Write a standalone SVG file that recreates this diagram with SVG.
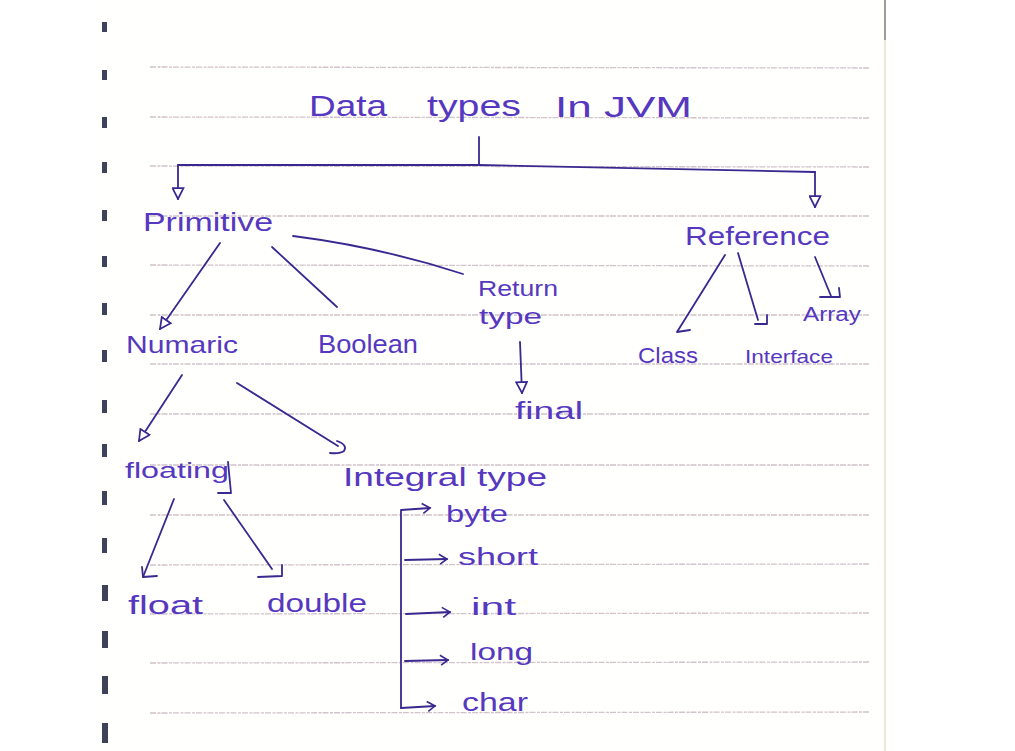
<svg xmlns="http://www.w3.org/2000/svg" width="1015" height="751" viewBox="0 0 1015 751">
<style>
.rule{stroke:#d2c2cc;stroke-width:1.3;stroke-dasharray:6 1.5 3 1}
.ink{fill:#5638c0;font-family:"Liberation Sans","DejaVu Sans",sans-serif}
.ln{fill:none;stroke:#3a2790;stroke-width:1.8;stroke-linecap:round;stroke-linejoin:round}
.bind{fill:#3d4258}
</style>
<defs>
<marker id="tri" viewBox="0 0 12 12" refX="11" refY="6" markerWidth="13" markerHeight="13" markerUnits="userSpaceOnUse" orient="auto">
<path d="M1,1 L11,6 L1,11 Z" fill="#fff" stroke="#3a2790" stroke-width="1.6"/>
</marker>
<marker id="chev" viewBox="0 0 12 12" refX="10" refY="6" markerWidth="12" markerHeight="12" markerUnits="userSpaceOnUse" orient="auto">
<path d="M2,1 L10,6 L3,11" fill="none" stroke="#3a2790" stroke-width="1.6"/>
</marker>
</defs>
<rect width="1015" height="751" fill="#fff"/>
<rect x="100" y="0" width="785" height="751" fill="#fffffd"/>
<line x1="885" y1="0" x2="885" y2="751" stroke="#ece9d8" stroke-width="2"/>
<line x1="885" y1="0" x2="885" y2="40" stroke="#6a6a6a" stroke-width="1.2"/>
<g id="binding">
<rect class="bind" x="102" y="22" width="5" height="10"/>
<rect class="bind" x="102" y="70" width="5" height="10"/>
<rect class="bind" x="102" y="117" width="5" height="11"/>
<rect class="bind" x="102" y="162" width="5" height="11"/>
<rect class="bind" x="102" y="210" width="5" height="11"/>
<rect class="bind" x="102" y="256" width="5" height="11"/>
<rect class="bind" x="102" y="303" width="5" height="12"/>
<rect class="bind" x="102" y="350" width="5" height="12"/>
<rect class="bind" x="102" y="400" width="5" height="13"/>
<rect class="bind" x="102" y="444" width="5" height="13"/>
<rect class="bind" x="102" y="491" width="5" height="14"/>
<rect class="bind" x="102" y="538" width="5" height="15"/>
<rect class="bind" x="102" y="585" width="6" height="16"/>
<rect class="bind" x="102" y="631" width="6" height="17"/>
<rect class="bind" x="102" y="676" width="6" height="18"/>
<rect class="bind" x="102" y="723" width="6" height="20"/>
</g>
<g id="rules">
<line class="rule" x1="150" y1="67" x2="870" y2="68"/>
<line class="rule" x1="150" y1="117" x2="870" y2="118"/>
<line class="rule" x1="150" y1="166" x2="870" y2="167"/>
<line class="rule" x1="150" y1="216" x2="870" y2="216"/>
<line class="rule" x1="150" y1="265" x2="870" y2="266"/>
<line class="rule" x1="150" y1="315" x2="870" y2="315"/>
<line class="rule" x1="150" y1="364" x2="870" y2="364"/>
<line class="rule" x1="150" y1="414" x2="870" y2="414"/>
<line class="rule" x1="150" y1="465" x2="870" y2="465"/>
<line class="rule" x1="150" y1="515" x2="870" y2="515"/>
<line class="rule" x1="150" y1="565" x2="870" y2="564"/>
<line class="rule" x1="150" y1="614" x2="870" y2="613"/>
<line class="rule" x1="150" y1="663" x2="870" y2="662"/>
<line class="rule" x1="150" y1="713" x2="870" y2="712"/>
</g>
<g id="connectors">
<path class="ln" d="M479,137 L479,165"/>
<path class="ln" d="M178,165 L479,165 L815,172"/>
<path class="ln" d="M178,165 L178,199" marker-end="url(#tri)"/>
<path class="ln" d="M815,172 L815,207" marker-end="url(#tri)"/>
<path class="ln" d="M220,243 L160,329" marker-end="url(#tri)"/>
<path class="ln" d="M272,247 L337,307"/>
<path class="ln" d="M293,236 Q380,247 463,274"/>
<path class="ln" d="M520,342 L522,393" marker-end="url(#tri)"/>
<path class="ln" d="M725,255 L677,332 L690,330"/>
<path class="ln" d="M738,253 L758,320"/>
<path class="ln" d="M755,324 L767,324 L767,315"/>
<path class="ln" d="M815,257 L831,296"/>
<path class="ln" d="M820,297 L840,297 L839,288"/>
<path class="ln" d="M182,375 L139,441" marker-end="url(#tri)"/>
<path class="ln" d="M237,383 L338,446"/>
<path class="ln" d="M337,441 Q348,445 344,451 Q340,454 330,453"/>
<path class="ln" d="M174,499 L143,577 L157,576"/>
<path class="ln" d="M142,567 L143,577"/>
<path class="ln" d="M224,500 L272,569"/>
<path class="ln" d="M258,577 L282,576 L282,565"/>
<path class="ln" d="M401,708 L401,510 L430,508" marker-end="url(#chev)"/>
<path class="ln" d="M405,560 L447,559" marker-end="url(#chev)"/>
<path class="ln" d="M406,614 L450,612" marker-end="url(#chev)"/>
<path class="ln" d="M405,661 L448,660" marker-end="url(#chev)"/>
<path class="ln" d="M401,708 L435,706" marker-end="url(#chev)"/>
</g>
<g id="title"><text class="ink" font-size="30"><tspan x="309" y="116" textLength="78" lengthAdjust="spacingAndGlyphs">Data</tspan><tspan x="427" y="116" textLength="94" lengthAdjust="spacingAndGlyphs">types</tspan><tspan x="555" y="117" textLength="137" lengthAdjust="spacingAndGlyphs">In JVM</tspan></text></g>
<g id="primitive"><text class="ink" x="143" y="231" font-size="25" textLength="130" lengthAdjust="spacingAndGlyphs">Primitive</text></g>
<g id="reference"><text class="ink" x="685" y="245" font-size="25" textLength="145" lengthAdjust="spacingAndGlyphs">Reference</text></g>
<g id="numaric"><text class="ink" x="126" y="353" font-size="24" textLength="112" lengthAdjust="spacingAndGlyphs">Numaric</text></g>
<g id="boolean"><text class="ink" x="318" y="353" font-size="26" textLength="100" lengthAdjust="spacingAndGlyphs">Boolean</text></g>
<g id="returntype"><text class="ink" font-size="22"><tspan x="478" y="296" textLength="80" lengthAdjust="spacingAndGlyphs">Return</tspan><tspan x="479" y="324" textLength="63" lengthAdjust="spacingAndGlyphs">type</tspan></text></g>
<g id="final"><text class="ink" x="515" y="419" font-size="23" textLength="68" lengthAdjust="spacingAndGlyphs">final</text></g>
<g id="class"><text class="ink" x="638" y="363" font-size="22" textLength="60" lengthAdjust="spacingAndGlyphs">Class</text></g>
<g id="interface"><text class="ink" x="745" y="363" font-size="19" textLength="88" lengthAdjust="spacingAndGlyphs">Interface</text></g>
<g id="array"><text class="ink" x="803" y="321" font-size="20" textLength="58" lengthAdjust="spacingAndGlyphs">Array</text></g>
<g id="floating"><text class="ink" x="125" y="478" font-size="22" textLength="104" lengthAdjust="spacingAndGlyphs">floating</text><path class="ln" d="M228,462 L231,493 L218,493" stroke="#5638c0"/></g>
<g id="integral"><text class="ink" x="343" y="486" font-size="26" textLength="204" lengthAdjust="spacingAndGlyphs">Integral type</text></g>
<g id="float"><text class="ink" x="128" y="614" font-size="25" textLength="75" lengthAdjust="spacingAndGlyphs">float</text></g>
<g id="double"><text class="ink" x="267" y="612" font-size="26" textLength="100" lengthAdjust="spacingAndGlyphs">double</text></g>
<g id="byte"><text class="ink" x="446" y="522" font-size="24" textLength="62" lengthAdjust="spacingAndGlyphs">byte</text></g>
<g id="short"><text class="ink" x="458" y="565" font-size="23" textLength="80" lengthAdjust="spacingAndGlyphs">short</text></g>
<g id="int"><text class="ink" x="471" y="615" font-size="23" textLength="45" lengthAdjust="spacingAndGlyphs">int</text></g>
<g id="long"><text class="ink" x="470" y="660" font-size="24" textLength="63" lengthAdjust="spacingAndGlyphs">long</text></g>
<g id="char"><text class="ink" x="462" y="711" font-size="25" textLength="66" lengthAdjust="spacingAndGlyphs">char</text></g>
</svg>
